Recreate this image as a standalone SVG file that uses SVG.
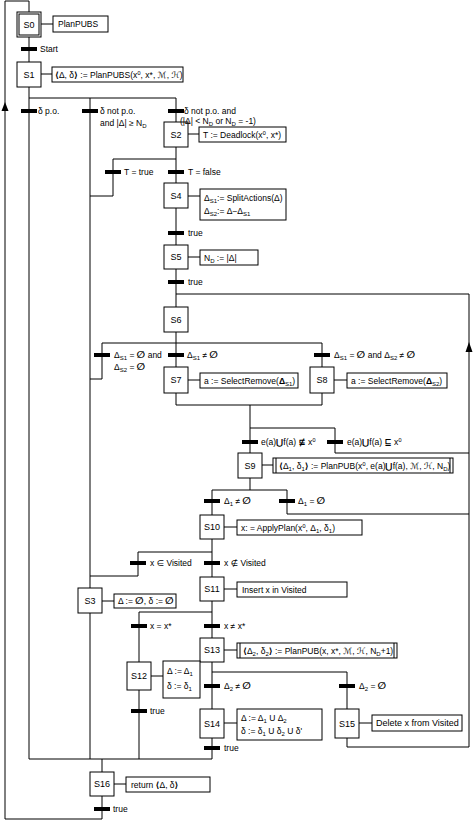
<svg xmlns="http://www.w3.org/2000/svg" width="474" height="822" viewBox="0 0 474 822">
<style>
.l{stroke:#000;stroke-width:1;fill:none}
.b{fill:#fff;stroke:#000;stroke-width:1}
.bar{stroke:#000;stroke-width:4}
text{font-family:"Liberation Sans",Arial,"DejaVu Sans",sans-serif;font-size:8.5px;fill:#000}
.c{text-anchor:middle;font-size:9px}
.s{font-size:6px;baseline-shift:-2px}
.g{font-weight:bold;font-family:"DejaVu Sans",sans-serif}
.e{font-weight:bold;font-style:italic;font-size:10px;font-family:"DejaVu Sans",sans-serif}
</style>
<rect width="474" height="822" fill="#fff"/>
<g id="connectors">
<path class="l" d="M29,12V1H5V819H102V796"/>
<path class="l" d="M29,37V62M29,87V759"/>
<path class="l" d="M29,98H176M90,98V588M90,613V759M176,98V122"/>
<path class="l" d="M176,147V183M113,159H176M113,159V196H90"/>
<path class="l" d="M176,208V245M176,269V307M176,294H469V747H347V738"/>
<path class="l" d="M176,332V367M102,343H322M102,343V379H90M322,343V367"/>
<path class="l" d="M176,393V405M322,393V405M176,405H322M250,405V453M250,428H335V453H469"/>
<path class="l" d="M250,478V490M212,490H287M212,490V515M287,490V514H469"/>
<path class="l" d="M212,539V577M138,552H212M138,552V576H90"/>
<path class="l" d="M212,601V638M139,612H212M139,612V662"/>
<path class="l" d="M212,662V709M212,672H347V709M139,690V759M212,738V759M29,759H212M102,759V772"/>
<path d="M5,102L1.5,111H8.5Z" fill="#000"/>
<path d="M469,342L465.5,352H472.5Z" fill="#000"/>
</g>
<g id="S0"><rect class="b" x="17" y="12" width="24" height="25"/><rect class="b" x="19" y="14" width="20" height="21"/><text class="c" x="29" y="28">S0</text><line class="l" x1="41" y1="24" x2="53" y2="24"/><rect class="b" x="53" y="16" width="55" height="16"/><text x="58" y="27">PlanPUBS</text></g>
<g id="S1"><rect class="b" x="17" y="62" width="24" height="25"/><text class="c" x="29" y="78">S1</text><line class="l" x1="41" y1="74" x2="52" y2="74"/><rect class="b" x="52" y="67" width="131" height="15"/><text x="55" y="78"><tspan class="g">⟨</tspan>Δ, δ<tspan class="g">⟩</tspan> := PlanPUBS(x⁰, x*, ℳ, ℋ)</text></g>
<g id="S2"><rect class="b" x="164" y="122" width="24" height="25"/><text class="c" x="176" y="138">S2</text><line class="l" x1="188" y1="134" x2="199" y2="134"/><rect class="b" x="199" y="127" width="87" height="15"/><text x="203" y="138">T := Deadlock(x⁰, x*)</text></g>
<g id="S4"><rect class="b" x="164" y="183" width="24" height="25"/><text class="c" x="176" y="199">S4</text><line class="l" x1="188" y1="196" x2="200" y2="196"/><rect class="b" x="200" y="189" width="86" height="31"/><text x="204" y="201">Δ<tspan class="s">S1</tspan>:= SplitActions(Δ)</text><text x="204" y="214">Δ<tspan class="s">S2</tspan>:= Δ−Δ<tspan class="s">S1</tspan></text></g>
<g id="S5"><rect class="b" x="164" y="245" width="24" height="24"/><text class="c" x="176" y="260">S5</text><line class="l" x1="188" y1="257" x2="200" y2="257"/><rect class="b" x="200" y="250" width="58" height="15"/><text x="204" y="261">N<tspan class="s">D</tspan> := |Δ|</text></g>
<g id="S6"><rect class="b" x="164" y="307" width="24" height="25"/><text class="c" x="176" y="323">S6</text></g>
<g id="S7"><rect class="b" x="164" y="367" width="24" height="26"/><text class="c" x="176" y="383">S7</text><line class="l" x1="188" y1="380" x2="200" y2="380"/><rect class="b" x="200" y="373" width="98" height="15"/><text x="204" y="384">a := SelectRemove(<tspan font-weight="bold">Δ</tspan><tspan class="s">S1</tspan>)</text></g>
<g id="S8"><rect class="b" x="310" y="367" width="24" height="26"/><text class="c" x="322" y="383">S8</text><line class="l" x1="334" y1="380" x2="347" y2="380"/><rect class="b" x="347" y="373" width="100" height="15"/><text x="351" y="384">a := SelectRemove(<tspan font-weight="bold">Δ</tspan><tspan class="s">S2</tspan>)</text></g>
<g id="S9"><rect class="b" x="238" y="453" width="24" height="25"/><text class="c" x="250" y="469">S9</text><line class="l" x1="262" y1="465" x2="273" y2="465"/><rect class="b" x="273" y="458" width="180" height="15"/><line class="l" x1="276" y1="458" x2="276" y2="473"/><line class="l" x1="450" y1="458" x2="450" y2="473"/><text x="279" y="469"><tspan class="g">⟨</tspan>Δ<tspan class="s">1</tspan>, δ<tspan class="s">1</tspan><tspan class="g">⟩</tspan> := PlanPUB(x⁰, e(a)<tspan class="g">⋃</tspan>f(a), ℳ, ℋ, N<tspan class="s">D</tspan>)</text></g>
<g id="S10"><rect class="b" x="200" y="515" width="24" height="24"/><text class="c" x="212" y="530">S10</text><line class="l" x1="224" y1="527" x2="237" y2="527"/><rect class="b" x="237" y="520" width="125" height="15"/><text x="241" y="531">x: = ApplyPlan(x⁰, Δ<tspan class="s">1</tspan>, δ<tspan class="s">1</tspan>)</text></g>
<g id="S11"><rect class="b" x="200" y="577" width="24" height="24"/><text class="c" x="212" y="592">S11</text><line class="l" x1="224" y1="589" x2="237" y2="589"/><rect class="b" x="237" y="582" width="110" height="15"/><text x="242" y="593">Insert x in Visited</text></g>
<g id="S3"><rect class="b" x="78" y="588" width="24" height="25"/><text class="c" x="90" y="604">S3</text><line class="l" x1="102" y1="601" x2="114" y2="601"/><rect class="b" x="114" y="594" width="62" height="14"/><text x="118" y="604">Δ := <tspan class="e">∅</tspan>, δ := <tspan class="e">∅</tspan></text></g>
<g id="S13"><rect class="b" x="200" y="638" width="24" height="24"/><text class="c" x="212" y="653">S13</text><line class="l" x1="224" y1="650" x2="237" y2="650"/><rect class="b" x="237" y="643" width="160" height="15"/><line class="l" x1="240" y1="643" x2="240" y2="658"/><line class="l" x1="394" y1="643" x2="394" y2="658"/><text x="243" y="654"><tspan class="g">⟨</tspan>Δ<tspan class="s">2</tspan>, δ<tspan class="s">2</tspan><tspan class="g">⟩</tspan> := PlanPUB(x, x*, ℳ, ℋ, N<tspan class="s">D</tspan>+1)</text></g>
<g id="S12"><rect class="b" x="127" y="662" width="24" height="28"/><text class="c" x="139" y="679">S12</text><line class="l" x1="151" y1="676" x2="163" y2="676"/><rect class="b" x="163" y="661" width="37" height="37"/><text x="167" y="674">Δ := Δ<tspan class="s">1</tspan></text><text x="167" y="689">δ :=  δ<tspan class="s">1</tspan></text></g>
<g id="S14"><rect class="b" x="200" y="709" width="24" height="29"/><text class="c" x="212" y="727">S14</text><line class="l" x1="224" y1="723" x2="237" y2="723"/><rect class="b" x="237" y="709" width="85" height="31"/><text x="241" y="721">Δ := Δ<tspan class="s">1</tspan> U Δ<tspan class="s">2</tspan></text><text x="241" y="734">δ :=  δ<tspan class="s">1</tspan> U δ<tspan class="s">2</tspan> U δ'</text></g>
<g id="S15"><rect class="b" x="335" y="709" width="24" height="29"/><text class="c" x="347" y="727">S15</text><line class="l" x1="359" y1="723" x2="372" y2="723"/><rect class="b" x="372" y="715" width="90" height="16"/><text x="376" y="726" style="font-size:9px">Delete x from Visited</text></g>
<g id="S16"><rect class="b" x="90" y="772" width="24" height="24"/><text class="c" x="102" y="787">S16</text><line class="l" x1="114" y1="784" x2="126" y2="784"/><rect class="b" x="126" y="777" width="84" height="15"/><text x="131" y="788">return <tspan class="g">⟨</tspan>Δ, δ<tspan class="g">⟩</tspan></text></g>
<g id="transitions">
<line class="bar" x1="21" y1="49" x2="37" y2="49"/><text x="40" y="52">Start</text>
<line class="bar" x1="21" y1="111" x2="37" y2="111"/><text x="38" y="114">δ p.o.</text>
<line class="bar" x1="82" y1="111" x2="98" y2="111"/><text x="100" y="114">δ not p.o.</text><text x="100" y="126">and |Δ| ≥ N<tspan class="s">D</tspan></text>
<line class="bar" x1="168" y1="111" x2="184" y2="111"/><text x="184" y="114">δ not p.o. and</text><text x="180" y="124">(|Δ| &lt; N<tspan class="s">D</tspan>  or  N<tspan class="s">D</tspan> = -1)</text>
<line class="bar" x1="105" y1="172" x2="121" y2="172"/><text x="124" y="175">T = true</text>
<line class="bar" x1="168" y1="172" x2="184" y2="172"/><text x="188" y="175">T = false</text>
<line class="bar" x1="168" y1="233" x2="184" y2="233"/><text x="188" y="236">true</text>
<line class="bar" x1="168" y1="282" x2="184" y2="282"/><text x="188" y="285">true</text>
<line class="bar" x1="94" y1="355" x2="110" y2="355"/><text x="114" y="358">Δ<tspan class="s">S1</tspan> = <tspan class="e">∅</tspan> and</text><text x="114" y="370">Δ<tspan class="s">S2</tspan> = <tspan class="e">∅</tspan></text>
<line class="bar" x1="168" y1="355" x2="184" y2="355"/><text x="187" y="358">Δ<tspan class="s">S1</tspan> ≠ <tspan class="e">∅</tspan></text>
<line class="bar" x1="314" y1="355" x2="330" y2="355"/><text x="334" y="358">Δ<tspan class="s">S1</tspan> = <tspan class="e">∅</tspan> and Δ<tspan class="s">S2</tspan> ≠ <tspan class="e">∅</tspan></text>
<line class="bar" x1="242" y1="442" x2="258" y2="442"/><text x="261" y="445">e(a)<tspan class="g">⋃</tspan>f(a) <tspan class="g">⋢</tspan> x⁰</text>
<line class="bar" x1="327" y1="442" x2="343" y2="442"/><text x="347" y="445">e(a)<tspan class="g">⋃</tspan>f(a) <tspan class="g">⊑</tspan> x⁰</text>
<line class="bar" x1="204" y1="501" x2="220" y2="501"/><text x="224" y="504">Δ<tspan class="s">1</tspan> ≠ <tspan class="e">∅</tspan></text>
<line class="bar" x1="279" y1="501" x2="295" y2="501"/><text x="298" y="504">Δ<tspan class="s">1</tspan> = <tspan class="e">∅</tspan></text>
<line class="bar" x1="130" y1="563" x2="146" y2="563"/><text x="150" y="566">x ∈ Visited</text>
<line class="bar" x1="204" y1="563" x2="220" y2="563"/><text x="224" y="566">x ∉ Visited</text>
<line class="bar" x1="131" y1="626" x2="147" y2="626"/><text x="150" y="629">x = x*</text>
<line class="bar" x1="204" y1="626" x2="220" y2="626"/><text x="224" y="629">x ≠ x*</text>
<line class="bar" x1="204" y1="686" x2="220" y2="686"/><text x="224" y="689">Δ<tspan class="s">2</tspan> ≠ <tspan class="e">∅</tspan></text>
<line class="bar" x1="339" y1="686" x2="355" y2="686"/><text x="359" y="689">Δ<tspan class="s">2</tspan> = <tspan class="e">∅</tspan></text>
<line class="bar" x1="131" y1="711" x2="147" y2="711"/><text x="150" y="714">true</text>
<line class="bar" x1="204" y1="748" x2="220" y2="748"/><text x="224" y="751">true</text>
<line class="bar" x1="94" y1="809" x2="110" y2="809"/><text x="113" y="812">true</text>
</g>
</svg>
